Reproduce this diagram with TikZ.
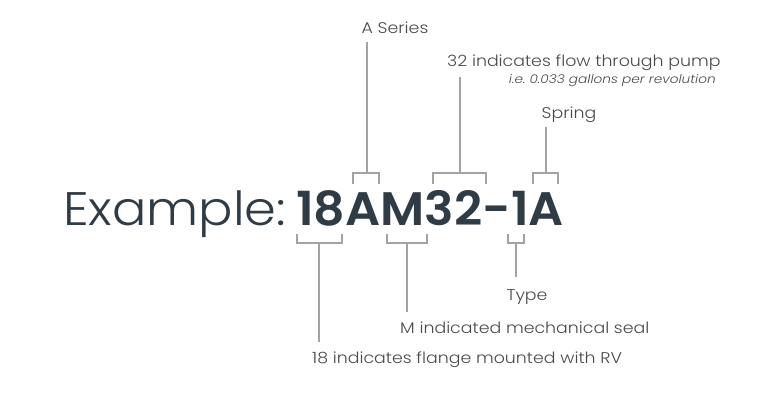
\documentclass[tikz,border=0pt]{standalone}
\usepackage{fontspec}
\setmainfont{Poppins}
\newfontfamily\poplight{Poppins Light}[FakeStretch=1.12]
\newfontfamily\poplightit{Poppins Light Italic}[FakeStretch=1.14]
\newfontfamily\popex{Poppins Light}[FakeStretch=1.085]
\newfontfamily\popbold{Poppins SemiBold}[FakeStretch=1.045]
\definecolor{slate}{HTML}{2F3B45}
\definecolor{lbl}{HTML}{4A4A4A}
\definecolor{ln}{HTML}{A3A3A3}
\frenchspacing
\begin{document}
\begin{tikzpicture}[x=1pt,y=-1pt,
  lab/.style={inner sep=0pt,text=lbl,font=\poplight\fontsize{15.5}{17}\selectfont},
  brk/.style={draw=ln,line width=1.3pt},
  big/.style={inner sep=0pt,text=slate}]
\useasboundingbox[fill=white] (0,0) rectangle (768,408);
% main text
\node[big,anchor=base west,font=\popex\fontsize{47}{50}\selectfont] (ex) at (63,225) {Example:};
\node[big,anchor=base west,font=\popbold\fontsize{47}{50}\selectfont] (code) at (296,225) {18AM32-1A};
% labels
\node[lab,anchor=base] (aser) at (395,33) {A Series};
\node[lab,anchor=base west] (flow) at (447,66) {32 indicates flow through pump};
\node[lab,anchor=base east,font=\poplightit\fontsize{12}{14}\selectfont] (ie) at (716,83) {i.e. 0.033 gallons per revolution};
\node[lab,anchor=base] (spr) at (569,118) {Spring};
\node[lab,anchor=base] (type) at (527,300) {Type};
\node[lab,anchor=base west] (mech) at (400,333) {M indicated mechanical seal};
\node[lab,anchor=base west] (flange) at (312,363) {18 indicates flange mounted with RV};
% top brackets
\draw[brk] (353,184) -- (353,173) -- (379,173) -- (379,184);
\coordinate (ta) at (367,173);
\coordinate (tae) at (367,42);
\draw[brk] (ta) -- (tae);
\draw[brk] (433,184) -- (433,173) -- (486,173) -- (486,184);
\coordinate (tf) at (460,173);
\coordinate (tfe) at (460,77);
\draw[brk] (tf) -- (tfe);
\draw[brk] (533,184) -- (533,173) -- (558,173) -- (558,184);
\coordinate (ts) at (546,173);
\coordinate (tse) at (546,127);
\draw[brk] (ts) -- (tse);
% bottom brackets
\draw[brk] (297,234) -- (297,243) -- (342,243) -- (342,234);
\coordinate (b18) at (319,243);
\coordinate (b18e) at (319,342);
\draw[brk] (b18) -- (b18e);
\draw[brk] (387,234) -- (387,243) -- (427,243) -- (427,234);
\coordinate (bm) at (407,243);
\coordinate (bme) at (407,312);
\draw[brk] (bm) -- (bme);
\draw[brk] (508,234) -- (508,243) -- (524,243) -- (524,234);
\coordinate (bt) at (516,243);
\coordinate (bte) at (516,277);
\draw[brk] (bt) -- (bte);
\end{tikzpicture}
\end{document}
